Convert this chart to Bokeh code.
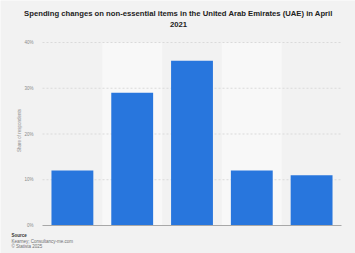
import math
from bokeh.plotting import figure
from bokeh.models import Label, Range1d
from bokeh.embed import file_html
from bokeh.resources import INLINE
from bokeh.core.properties import value

categories = ["Item 1", "Item 2", "Item 3", "Item 4", "Item 5"]
shares = [12, 29, 36, 12, 11]
y_ticks = [0, 10, 20, 30, 40]
y_tick_labels = ["0%", "10%", "20%", "30%", "40%"]
title_line1 = "Spending changes on non-essential items in the United Arab Emirates (UAE) in April"
title_line2 = "2021"
y_label = "Share of respondents"
source_lines = ["Source", "Kearney; Consultancy-me.com", "\u00a9 Statista 2025"]

W, H = 355, 253
PLOT_L, PLOT_R = 42, 341           # pixel columns of the plotting area
PLOT_T, PLOT_B = 42, 225           # pixel rows of the 40% and 0% lines
BG = "#f2f2f2"

n = len(categories)
ymax = max(y_ticks)
ppu_y = (PLOT_B - PLOT_T) / ymax
ppu_x = (PLOT_R - PLOT_L) / n
x_lo, x_hi = 0.5, n + 0.5

p = figure(width=W, height=H,
           x_range=Range1d(x_lo - PLOT_L / ppu_x, x_hi + (W - PLOT_R) / ppu_x),
           y_range=Range1d(-(H - PLOT_B) / ppu_y, ymax + PLOT_T / ppu_y),
           x_axis_type=None, y_axis_type=None, output_backend="svg", toolbar_location=None,
           min_border=0)
p.background_fill_color = BG
p.border_fill_color = BG
p.outline_line_color = None
p.title = None
p.grid.visible = False

xpos = list(range(1, n + 1))
band_x = [x for i, x in enumerate(xpos) if i % 2 == 1]
p.vbar(x=band_x, top=[ymax] * len(band_x), bottom=0, width=1.0, color="#f8f8f8", line_color=None)

grid_y = [t for t in y_ticks if t > 0]
p.segment(x0=[x_lo] * len(grid_y), x1=[x_hi] * len(grid_y), y0=grid_y, y1=grid_y,
          line_color="#dadada", line_width=1, line_dash="2 2")

p.vbar(x=xpos, top=shares, bottom=0, width=0.7, color="#2876dd", line_color=None)
p.segment(x0=[x_lo], x1=[x_hi], y0=[0], y1=[0], line_color="#a8a8a8", line_width=1)

# y tick labels
p.text(x=[x_lo - 9 / ppu_x] * len(y_ticks), y=y_ticks, text=y_tick_labels,
       text_align="right", text_baseline="middle", text_font=value("Liberation Sans"),
       text_font_size="4.5px", text_color="#8a8a8a")

def lab(text, x, y, bold, size, color, align, angle=0.0):
    return Label(x=x, y=H - y, x_units="screen", y_units="screen", text=text, angle=angle,
                 text_align=align, text_baseline="middle", text_font="Liberation Sans",
                 text_font_style="bold" if bold else "normal", text_font_size=size, text_color=color)

p.add_layout(lab(y_label, 19, 130, False, "4.5px", "#8a8a8a", "center", math.pi / 2))
p.add_layout(lab(title_line1, 178, 13, True, "7.7px", "#222222", "center"))
p.add_layout(lab(title_line2, 178, 24, True, "7.7px", "#222222", "center"))
p.add_layout(lab(source_lines[0], 11, 235, True, "4.5px", "#333333", "left"))
p.add_layout(lab(source_lines[1], 11, 240.5, False, "4.5px", "#6f6f6f", "left"))
p.add_layout(lab(source_lines[2], 11, 246, False, "4.5px", "#6f6f6f", "left"))

open("out.html", "w").write(file_html(p, INLINE))
